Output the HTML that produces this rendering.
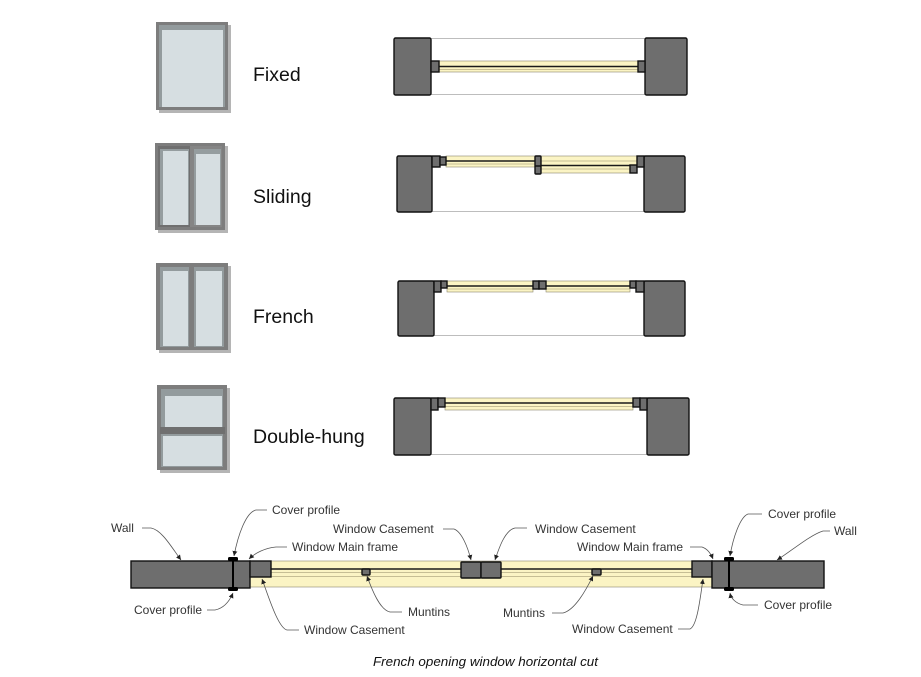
<!DOCTYPE html>
<html><head><meta charset="utf-8"><style>
html,body{margin:0;padding:0;background:#fff;}
svg{display:block;}
text{font-family:"Liberation Sans",sans-serif;}
.lbl{font-size:19.5px;fill:#111;}
.sm{font-size:12px;fill:#333;}
.ld{fill:none;stroke:#555;stroke-width:0.8;}
.w{fill:#6e6e6e;stroke:#111;stroke-width:1.4;}
.y{fill:#fbf4c4;stroke:#8a8670;stroke-width:0.6;}
.bl{stroke:#1a1a1a;stroke-width:1.5;}
.gl{stroke:#b4ad85;stroke-width:0.8;}
.lg{stroke:#bdbdbd;stroke-width:1;}
</style></head><body>
<svg width="921" height="677" viewBox="0 0 921 677" xmlns="http://www.w3.org/2000/svg">
<defs>
<marker id="ar" markerWidth="6" markerHeight="6" refX="5" refY="3" orient="auto" markerUnits="userSpaceOnUse">
<path d="M0,0.5 L5,3 L0,5.5 z" fill="#222"/>
</marker>
</defs>

<!-- ICONS -->
<!-- Fixed -->
<rect x="159" y="25" width="72" height="88" fill="#b5b5b5"/>
<rect x="156" y="22" width="72" height="88" fill="#7d7d7d"/>
<rect x="159" y="25" width="66" height="82" fill="#939b9d"/>
<rect x="162" y="30" width="61" height="77" fill="#d6dee1"/>

<!-- Sliding -->
<rect x="158" y="146" width="70" height="87" fill="#b5b5b5"/>
<rect x="155" y="143" width="70" height="87" fill="#7d7d7d"/>
<rect x="158" y="146" width="32" height="81" fill="#6f6f6f"/>
<rect x="160" y="149" width="29" height="76" fill="#959d9f"/>
<rect x="163" y="151" width="25" height="74" fill="#d6dee1"/>
<rect x="190" y="146" width="32" height="81" fill="#858585"/>
<rect x="194" y="149" width="27" height="76" fill="#959d9f"/>
<rect x="196" y="154" width="24" height="71" fill="#d6dee1"/>

<!-- French -->
<rect x="159" y="266" width="72" height="87" fill="#b5b5b5"/>
<rect x="156" y="263" width="72" height="87" fill="#7d7d7d"/>
<rect x="160" y="267" width="29" height="80" fill="#939b9d"/>
<rect x="163" y="271" width="25" height="75" fill="#d6dee1"/>
<rect x="194" y="267" width="30" height="80" fill="#939b9d"/>
<rect x="196" y="271" width="26" height="75" fill="#d6dee1"/>

<!-- Double-hung -->
<rect x="160" y="388" width="70" height="85" fill="#b5b5b5"/>
<rect x="157" y="385" width="70" height="85" fill="#7d7d7d"/>
<rect x="161" y="389" width="62" height="38" fill="#939b9d"/>
<rect x="165" y="396" width="57" height="31" fill="#d6dee1"/>
<rect x="160" y="427" width="65" height="7" fill="#6f6f6f"/>
<rect x="161" y="434" width="62" height="33" fill="#939b9d"/>
<rect x="163" y="436" width="59" height="30" fill="#d6dee1"/>

<text class="lbl" x="253" y="81">Fixed</text>
<text class="lbl" x="253" y="203">Sliding</text>
<text class="lbl" x="253" y="323">French</text>
<text class="lbl" x="253" y="443">Double-hung</text>

<!-- CROSS SECTIONS -->
<!-- Fixed -->
<line class="lg" x1="431" y1="38.5" x2="645" y2="38.5"/>
<line class="lg" x1="431" y1="94.5" x2="645" y2="94.5"/>
<rect class="y" x="439" y="61" width="199" height="11"/>
<line class="bl" x1="439" y1="66.5" x2="638" y2="66.5"/>
<line class="gl" x1="439" y1="69.5" x2="638" y2="69.5"/>
<rect class="w" x="394" y="38" width="37" height="57" rx="1.5"/>
<rect class="w" x="645" y="38" width="42" height="57" rx="1.5"/>
<rect class="w" x="431" y="61" width="8" height="11"/>
<rect class="w" x="638" y="61" width="7" height="11"/>

<!-- Sliding -->
<line class="lg" x1="432" y1="211.5" x2="644" y2="211.5"/>
<rect class="y" x="446" y="156" width="89" height="11"/>
<line class="bl" x1="446" y1="161" x2="535" y2="161"/>
<line class="gl" x1="446" y1="164" x2="535" y2="164"/>
<rect class="y" x="541" y="156" width="96" height="17"/>
<line class="gl" x1="541" y1="161" x2="637" y2="161"/>
<line class="bl" x1="541" y1="165.5" x2="630" y2="165.5"/>
<line class="gl" x1="541" y1="169" x2="630" y2="169"/>
<rect class="w" x="397" y="156" width="35" height="56" rx="1.5"/>
<rect class="w" x="644" y="156" width="41" height="56" rx="1.5"/>
<rect class="w" x="432" y="156" width="8" height="11"/>
<rect class="w" x="440" y="157" width="6" height="8"/>
<rect class="w" x="535" y="156" width="6" height="11" rx="1"/>
<rect class="w" x="535" y="166" width="6" height="8" rx="1"/>
<rect class="w" x="630" y="165" width="7" height="8"/>
<rect class="w" x="637" y="156" width="7" height="11"/>

<!-- French -->
<line class="lg" x1="434" y1="335.5" x2="644" y2="335.5"/>
<rect class="y" x="447" y="281" width="86" height="11"/>
<line class="bl" x1="447" y1="286" x2="533" y2="286"/>
<line class="gl" x1="447" y1="289" x2="533" y2="289"/>
<rect class="y" x="546" y="281" width="84" height="11"/>
<line class="bl" x1="546" y1="286" x2="630" y2="286"/>
<line class="gl" x1="546" y1="289" x2="630" y2="289"/>
<rect class="w" x="398" y="281" width="36" height="55" rx="1.5"/>
<rect class="w" x="644" y="281" width="41" height="55" rx="1.5"/>
<rect class="w" x="434" y="281" width="7" height="11"/>
<rect class="w" x="441" y="281" width="6" height="7"/>
<rect class="w" x="533" y="281" width="6" height="8"/>
<rect class="w" x="539" y="281" width="7" height="8"/>
<rect class="w" x="630" y="281" width="6" height="7"/>
<rect class="w" x="636" y="281" width="8" height="11"/>

<!-- Double-hung -->
<line class="lg" x1="431" y1="454.5" x2="647" y2="454.5"/>
<rect class="y" x="445" y="398" width="188" height="12"/>
<line class="bl" x1="445" y1="403" x2="633" y2="403"/>
<line class="gl" x1="445" y1="406.5" x2="633" y2="406.5"/>
<rect class="w" x="394" y="398" width="37" height="57" rx="1.5"/>
<rect class="w" x="647" y="398" width="42" height="57" rx="1.5"/>
<rect class="w" x="431" y="398" width="7" height="12"/>
<rect class="w" x="438" y="398" width="7" height="9"/>
<rect class="w" x="633" y="398" width="7" height="9"/>
<rect class="w" x="640" y="398" width="7" height="12"/>

<!-- BOTTOM DETAIL -->
<rect class="y" x="250" y="561" width="462" height="26"/>
<line class="bl" x1="250" y1="569" x2="712" y2="569"/>
<line class="gl" x1="250" y1="572.5" x2="712" y2="572.5"/>
<line class="gl" x1="250" y1="576.5" x2="712" y2="576.5"/>
<rect class="w" x="131" y="561" width="119" height="27"/>
<rect class="w" x="250" y="561" width="21" height="16"/>
<rect class="w" x="461" y="562" width="20" height="16" rx="1"/>
<rect class="w" x="481" y="562" width="20" height="16" rx="1"/>
<rect class="w" x="362" y="569" width="8" height="6" rx="1"/>
<rect class="w" x="592" y="569" width="9" height="6" rx="1"/>
<rect class="w" x="692" y="561" width="20" height="16"/>
<rect class="w" x="712" y="561" width="112" height="27"/>
<!-- cover profiles -->
<line x1="233" y1="558" x2="233" y2="591" stroke="#000" stroke-width="2"/>
<rect x="228" y="557" width="10" height="4" rx="1.5" fill="#000"/>
<rect x="228" y="587" width="10" height="4" rx="1.5" fill="#000"/>
<line x1="729" y1="558" x2="729" y2="591" stroke="#000" stroke-width="2"/>
<rect x="724" y="557" width="10" height="4" rx="1.5" fill="#000"/>
<rect x="724" y="587" width="10" height="4" rx="1.5" fill="#000"/>

<!-- leaders -->
<path class="ld" marker-end="url(#ar)" d="M142,528 H151 C162,530 172,548 181,560"/>
<path class="ld" marker-end="url(#ar)" d="M267,510 H256 C246,512 238,535 234,556"/>
<path class="ld" marker-end="url(#ar)" d="M287,547 H276 C265,548 255,553 249,559"/>
<path class="ld" marker-end="url(#ar)" d="M207,610 H215 C225,608 230,600 233,593"/>
<path class="ld" marker-end="url(#ar)" d="M299,630 H287 C278,628 268,595 262,579"/>
<path class="ld" marker-end="url(#ar)" d="M402,612 H390 C380,610 372,590 367,576"/>
<path class="ld" marker-end="url(#ar)" d="M443,529 H454 C462,532 468,548 471,560"/>
<path class="ld" marker-end="url(#ar)" d="M527,528 H515 C505,530 499,548 495,560"/>
<path class="ld" marker-end="url(#ar)" d="M690,547 H702 C708,549 711,554 713,559"/>
<path class="ld" marker-end="url(#ar)" d="M552,613 H563 C575,610 586,590 593,576"/>
<path class="ld" marker-end="url(#ar)" d="M678,629 H690 C697,626 700,600 703,579"/>
<path class="ld" marker-end="url(#ar)" d="M762,514 H748 C740,517 733,538 730,556"/>
<path class="ld" marker-end="url(#ar)" d="M830,531 H823 C810,535 790,552 777,560"/>
<path class="ld" marker-end="url(#ar)" d="M758,605 H743 C735,603 731,598 730,593"/>

<text class="sm" x="111" y="532">Wall</text>
<text class="sm" x="272" y="514">Cover profile</text>
<text class="sm" x="292" y="551">Window Main frame</text>
<text class="sm" x="134" y="614">Cover profile</text>
<text class="sm" x="304" y="634">Window Casement</text>
<text class="sm" x="408" y="616">Muntins</text>
<text class="sm" x="333" y="533">Window Casement</text>
<text class="sm" x="535" y="533">Window Casement</text>
<text class="sm" x="577" y="551">Window Main frame</text>
<text class="sm" x="503" y="617">Muntins</text>
<text class="sm" x="572" y="633">Window Casement</text>
<text class="sm" x="768" y="518">Cover profile</text>
<text class="sm" x="834" y="535">Wall</text>
<text class="sm" x="764" y="609">Cover profile</text>

<text x="373" y="666" font-size="12.5" font-style="italic" fill="#111" textLength="225" lengthAdjust="spacingAndGlyphs">French opening window horizontal cut</text>
</svg>
</body></html>
